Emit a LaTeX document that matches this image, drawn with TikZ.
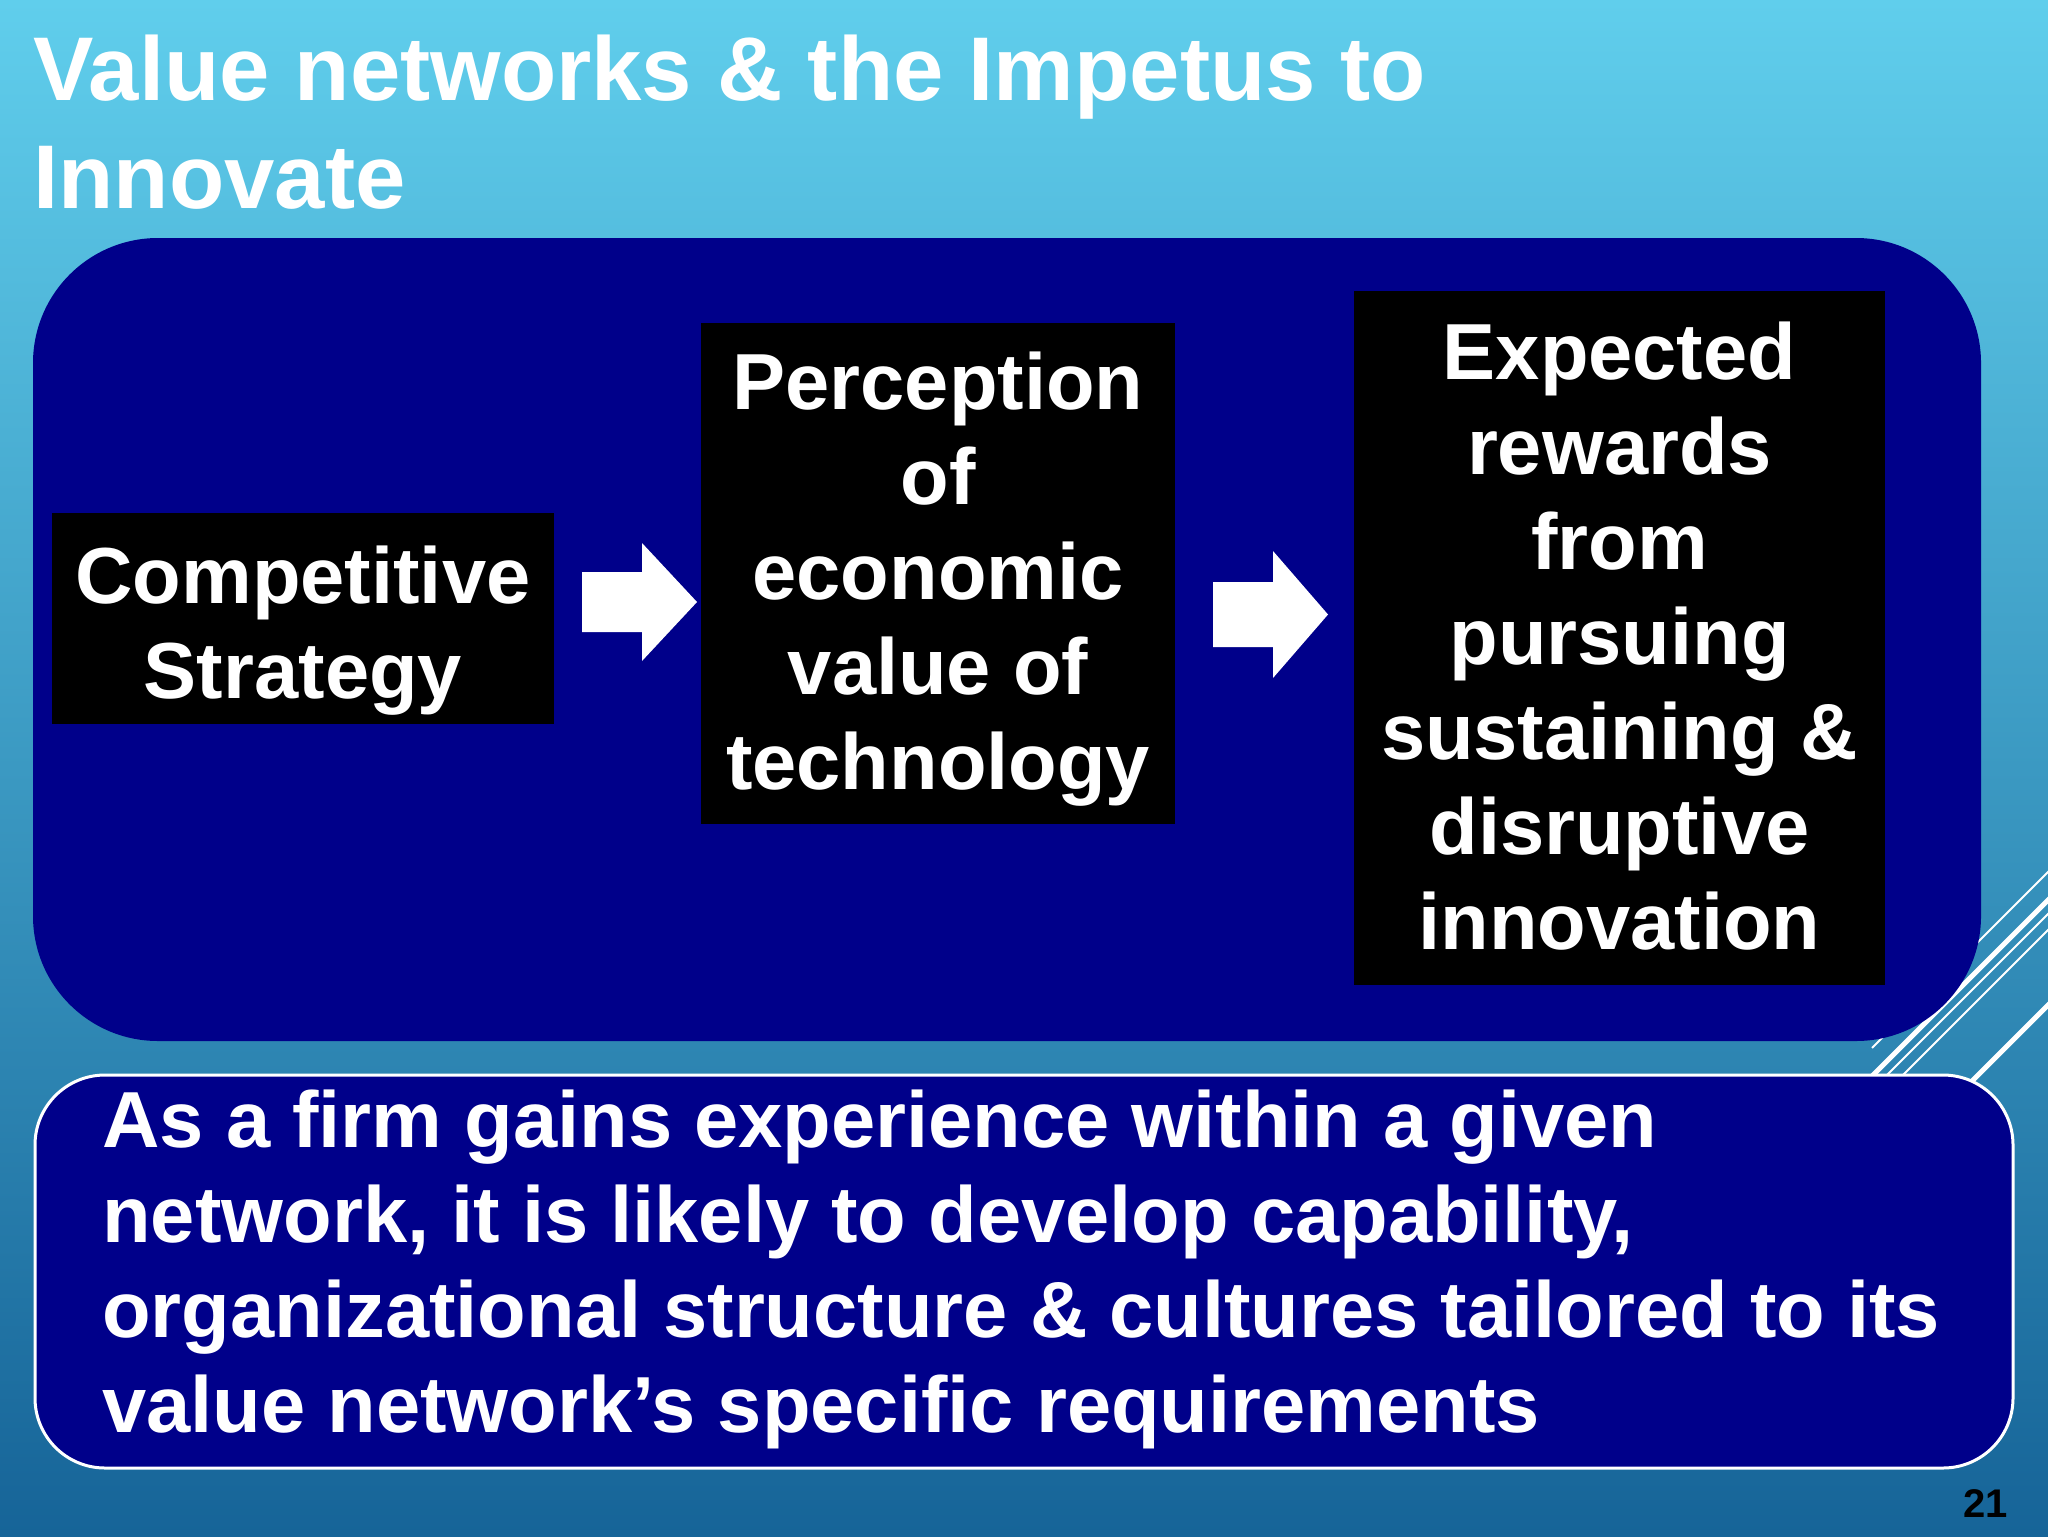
\documentclass[tikz,border=0pt]{standalone}
\usepackage{fontspec}
\setmainfont{Liberation Sans}
\definecolor{navy}{RGB}{0,0,138}
\definecolor{bgtop}{RGB}{96,206,236}
\definecolor{bgmid}{RGB}{58,160,206}
\definecolor{bgbot}{RGB}{22,100,152}
\begin{document}
\begin{tikzpicture}[x=0.5pt,y=-0.5pt,
  titlefont/.style={font=\fontsize{45.25}{54.5}\selectfont\bfseries},
  bodyfont/.style={font=\fontsize{39.75}{47.5}\selectfont\bfseries},
  blackbox/.style={fill=black, draw=none, inner sep=0pt},
  boxtext/.style={bodyfont, text=white, inner sep=0pt, anchor=base},
  blockarrow/.style={fill=white, draw=none},
  deco/.style={draw=white, line cap=butt},
  thinline/.style={deco, line width=1pt},
  thickline/.style={deco, line width=2.5pt}]
\useasboundingbox (0,0) rectangle (2048,1536);
\shade[top color=bgtop, middle color=bgmid, bottom color=bgbot] (0,0) rectangle (2048,1536);
% decorative diagonal lines
\begin{scope}
\clip (0,0) rectangle (2048,1536);
\draw[thinline]  (1872,1048) -- (2120,800);
\draw[thickline] (1728,1220) -- (2148,800);
\draw[thinline]  (1742,1220) -- (2162,800);
\draw[thinline]  (1758,1220) -- (2178,800);
\draw[thickline] (1833,1220) -- (2253,800);
\end{scope}
% panels
\node[fill=navy, draw=none, rounded corners=62.5pt, minimum width=974pt, minimum height=401.5pt, inner sep=0pt] (panel) at (1007,639.5) {};
\node[fill=navy, draw=white, line width=1.5pt, rounded corners=35pt, minimum width=989pt, minimum height=196.5pt, inner sep=0pt] (note) at (1024,1271.5) {};
% title
\node[titlefont, text=white, anchor=base west, inner sep=0pt] (title) at (33,100)
  {\begin{tabular}[t]{@{}l@{}}Value networks \& the Impetus to\\Innovate\end{tabular}};
% black boxes
\node[blackbox, minimum width=251pt, minimum height=105.5pt] (b1) at (303,618.5) {};
\node[blackbox, minimum width=237pt, minimum height=250.5pt] (b2) at (938,573.5) {};
\node[blackbox, minimum width=265.5pt, minimum height=347pt] (b3) at (1619.5,638) {};
\node[boxtext] (t1) at (303,603) {\begin{tabular}[t]{@{}c@{}}Competitive\\Strategy\end{tabular}};
\node[boxtext] (t2) at (938,409) {\begin{tabular}[t]{@{}c@{}}Perception\\of\\economic\\value of\\technology\end{tabular}};
\node[boxtext] (t3) at (1619.5,379) {\begin{tabular}[t]{@{}c@{}}Expected\\rewards\\from\\pursuing\\sustaining \&\\disruptive\\innovation\end{tabular}};
% block arrows
\coordinate (a1) at (582,602);
\fill[blockarrow] (a1) ++(0,-30) -- ++(60,0) -- ++(0,-29) -- ++(55,59) -- ++(-55,59) -- ++(0,-29) -- ++(-60,0) -- cycle;
\coordinate (a2) at (1213,614.5);
\fill[blockarrow] (a2) ++(0,-32.5) -- ++(60,0) -- ++(0,-31) -- ++(55,63.5) -- ++(-55,63.5) -- ++(0,-31) -- ++(-60,0) -- cycle;
% note text
\node[bodyfont, text=white, anchor=base west, inner sep=0pt] (t4) at (102,1147)
  {\begin{tabular}[t]{@{}l@{}}As a firm gains experience within a given\\network, it is likely to develop capability,\\organizational structure \& cultures tailored to its\\value network’s specific requirements\end{tabular}};
% page number
\node[font=\fontsize{20}{24}\selectfont\bfseries, text=black, anchor=base east, inner sep=0pt] (page) at (2008,1517) {21};
\end{tikzpicture}
\end{document}
